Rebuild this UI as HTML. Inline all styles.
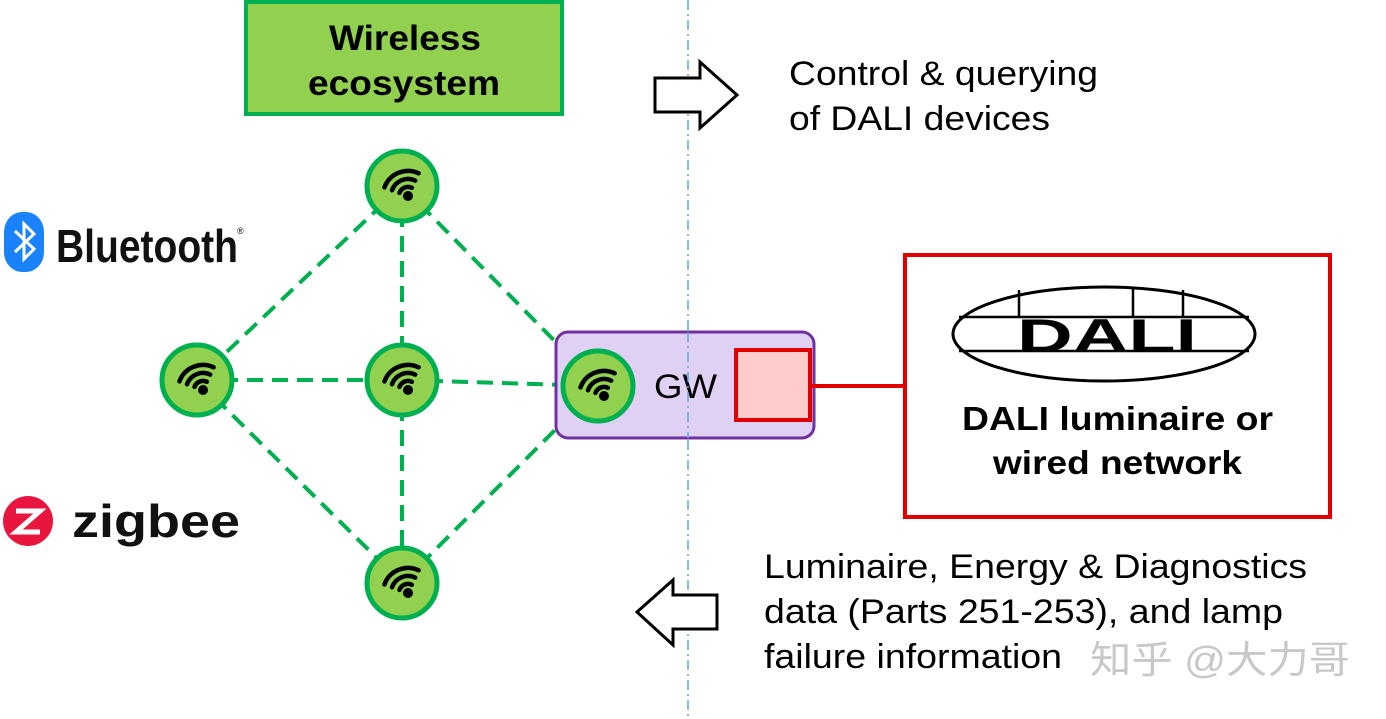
<!DOCTYPE html>
<html><head><meta charset="utf-8"><style>
html,body{margin:0;padding:0;background:#fff;}
svg{display:block;}
text{font-family:"Liberation Sans",Arial,sans-serif;}
</style></head><body>
<svg width="1386" height="719" viewBox="0 0 1386 719" xmlns="http://www.w3.org/2000/svg">
<defs>
<g id="wifi">
<path d="M-2.5,6.9 A9,9 0 0 1 9.8,1.8 M-10,4.2 A17,17 0 0 1 13.2,-5.4 M-17.5,1.4 A25,25 0 0 1 16.6,-12.7" fill="none" stroke="#000" stroke-width="4.5" stroke-linecap="round"/>
<circle cx="6" cy="10" r="5" fill="#000"/>
</g>
<g id="node">
<circle r="35" fill="#92d050" stroke="#00b050" stroke-width="5"/>
<use href="#wifi"/>
</g>
</defs>
<line x1="688" y1="0" x2="688" y2="719" stroke="#5aa9e0" stroke-width="1.5" stroke-dasharray="10,4,2,4"/>
<rect x="246" y="2" width="316" height="112" fill="#92d050" stroke="#00b050" stroke-width="4"/>
<text x="329" y="50" font-size="35" font-weight="bold" textLength="152" lengthAdjust="spacingAndGlyphs">Wireless</text>
<text x="308" y="95" font-size="35" font-weight="bold" textLength="192" lengthAdjust="spacingAndGlyphs">ecosystem</text>
<path d="M22,212 h4 a18,20 0 0 1 18,20 v20 a18,20 0 0 1 -18,20 h-4 a18,20 0 0 1 -18,-20 v-20 a18,20 0 0 1 18,-20z" fill="#1a82fb"/>
<path d="M15,231 L34,249 L24,259 L24,224 L34,234 L15,252" fill="none" stroke="#fff" stroke-width="3"/>
<text x="56" y="262" font-size="46" font-weight="bold" textLength="182" lengthAdjust="spacingAndGlyphs" fill="#111">Bluetooth</text>
<text x="237" y="234" font-size="9">®</text>
<circle cx="28" cy="521" r="25" fill="#e8163f"/>
<path d="M16,511 h24 l-24,21 h24" fill="none" stroke="#fff" stroke-width="5"/>
<text x="72" y="537" font-size="46" font-weight="bold" fill="#111" textLength="168" lengthAdjust="spacingAndGlyphs">zigbee</text>
<g stroke="#00b050" stroke-width="4" stroke-dasharray="16,9" fill="none">
<line x1="402" y1="186" x2="197" y2="380"/>
<line x1="402" y1="186" x2="402" y2="380"/>
<line x1="402" y1="186" x2="599" y2="386"/>
<line x1="197" y1="380" x2="402" y2="380"/>
<line x1="402" y1="380" x2="599" y2="386"/>
<line x1="197" y1="380" x2="402" y2="583"/>
<line x1="402" y1="380" x2="402" y2="583"/>
<line x1="402" y1="583" x2="599" y2="386"/>
</g>
<rect x="556" y="332" width="258" height="106" rx="12" fill="#e0d0f4" stroke="#7030a0" stroke-width="3"/>
<rect x="736" y="350" width="74" height="70" fill="#ffcccc" stroke="#e00000" stroke-width="4"/>
<text x="654" y="398" font-size="34" textLength="63" lengthAdjust="spacingAndGlyphs">GW</text>
<line x1="688" y1="332" x2="688" y2="438" stroke="#5aa9e0" stroke-width="1.5" stroke-dasharray="10,4,2,4"/>
<line x1="810" y1="386" x2="905" y2="386" stroke="#e00000" stroke-width="4"/>
<use href="#node" x="402" y="186"/>
<use href="#node" x="197" y="380"/>
<use href="#node" x="402" y="380"/>
<use href="#node" x="402" y="583"/>
<use href="#node" x="598" y="386"/>
<rect x="905" y="255" width="425" height="262" fill="#fff" stroke="#e00000" stroke-width="4"/>
<ellipse cx="1104" cy="334" rx="151" ry="47" fill="#fff" stroke="#000" stroke-width="3"/>
<g stroke="#000" stroke-width="2.5">
<line x1="959" y1="317" x2="1249" y2="317"/>
<line x1="959" y1="351" x2="1249" y2="351"/>
<line x1="1019" y1="290" x2="1019" y2="317"/>
<line x1="1133" y1="287" x2="1133" y2="317"/>
<line x1="1183" y1="290" x2="1183" y2="317"/>
</g>
<text x="1017" y="352" font-size="47" font-weight="900" textLength="180" lengthAdjust="spacingAndGlyphs">DALI</text>
<text x="962" y="430" font-size="33" font-weight="bold" textLength="311" lengthAdjust="spacingAndGlyphs">DALI luminaire or</text>
<text x="993" y="474" font-size="33" font-weight="bold" textLength="249" lengthAdjust="spacingAndGlyphs">wired network</text>
<path d="M655,78 H700 V62 L737,95 L700,128 V112 H655 Z" fill="#fff" stroke="#000" stroke-width="3"/>
<path d="M717,595 H673 V580 L637,612 L673,645 V629 H717 Z" fill="#fff" stroke="#000" stroke-width="3"/>
<text x="789" y="85" font-size="34" textLength="309" lengthAdjust="spacingAndGlyphs">Control &amp; querying</text>
<text x="789" y="130" font-size="34" textLength="261" lengthAdjust="spacingAndGlyphs">of DALI devices</text>
<text x="764" y="578" font-size="34" textLength="543" lengthAdjust="spacingAndGlyphs">Luminaire, Energy &amp; Diagnostics</text>
<text x="764" y="623" font-size="34" textLength="519" lengthAdjust="spacingAndGlyphs">data (Parts 251-253), and lamp</text>
<text x="764" y="668" font-size="34" textLength="298" lengthAdjust="spacingAndGlyphs">failure information</text>
<text x="1090" y="673" font-size="38" fill="#c8c8c8" textLength="260" lengthAdjust="spacingAndGlyphs" font-family="Liberation Sans, Noto Sans CJK SC, sans-serif">知乎 @大力哥</text>
</svg>
</body></html>
